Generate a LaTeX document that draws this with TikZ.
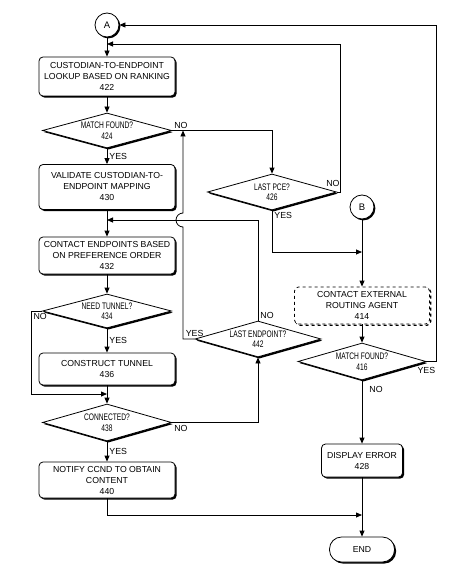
\documentclass[tikz,border=0pt]{standalone}
\usepackage{fontspec}
\setmainfont{Liberation Sans}
\newfontfamily\narrowfont[FakeStretch=0.7]{Liberation Sans}
\usetikzlibrary{shapes.geometric, arrows.meta, shadows}

\begin{document}
\begin{tikzpicture}[x=1pt, y=-1pt,
    boxbase/.style={rectangle, rounded corners=4pt, draw=black, line width=0.8pt, fill=white, align=center, inner sep=1pt, font=\fontsize{8.7}{11}\selectfont},
    box/.style={boxbase, drop shadow={shadow xshift=1.6pt, shadow yshift=-1.6pt, fill=black, opacity=1}},
    dbox/.style={boxbase, dashed, drop shadow={shadow xshift=1.3pt, shadow yshift=-1.3pt, fill=none, draw=black, dashed, line width=1.2pt, opacity=1}},
    dec/.style={diamond, draw=black, line width=0.8pt, fill=white, aspect=3.6, inner sep=0pt, align=center, font=\narrowfont\fontsize{9.5}{10.5}\selectfont, drop shadow={shadow xshift=1.4pt, shadow yshift=-1.6pt, fill=black, opacity=1}},
    conn/.style={circle, draw=black, line width=0.8pt, fill=white, minimum size=24pt, inner sep=0pt, font=\fontsize{9.5}{11}\selectfont, drop shadow={shadow xshift=1.4pt, shadow yshift=-1.4pt, fill=black, opacity=1}},
    flow/.style={-{Triangle[length=6pt, width=5pt]}, line width=0.8pt},
    lbl/.style={font=\fontsize{8.8}{10}\selectfont, inner sep=2pt}]
    \useasboundingbox (0,0) rectangle (474,588);

    %Nodes
    \node[conn] (A) at (107,25) {A};
    \node[box, minimum width=136pt, minimum height=39pt] (b422) at (107,76.5) {CUSTODIAN-TO-ENDPOINT\\LOOKUP BASED ON RANKING\\422};
    \node[dec, minimum width=129pt, minimum height=35pt] (d424) at (107,130.5) {MATCH FOUND?\\424};
    \node[box, minimum width=136pt, minimum height=45pt] (b430) at (107,187) {VALIDATE CUSTODIAN-TO-\\ENDPOINT MAPPING\\430};
    \node[box, minimum width=136pt, minimum height=37pt] (b432) at (107,255.5) {CONTACT ENDPOINTS BASED\\ON PREFERENCE ORDER\\432};
    \node[dec, minimum width=129pt, minimum height=34pt] (d434) at (107,311) {NEED TUNNEL?\\434};
    \node[box, minimum width=136pt, minimum height=32pt] (b436) at (107,369) {CONSTRUCT TUNNEL\\436};
    \node[dec, minimum width=129pt, minimum height=37pt] (d438) at (107,422.5) {CONNECTED?\\438};
    \node[box, minimum width=136pt, minimum height=36pt] (b440) at (107,480) {NOTIFY CCND TO OBTAIN\\CONTENT\\440};
    \node[dec, minimum width=129pt, minimum height=36pt] (d426) at (272,192) {LAST PCE?\\426};
    \node[dec, minimum width=126pt, minimum height=36pt] (d442) at (258,339) {LAST ENDPOINT?\\442};
    \node[conn] (B) at (362,207) {B};
    \node[dbox, minimum width=135pt, minimum height=37pt] (b414) at (362,305.5) {CONTACT EXTERNAL\\ROUTING AGENT\\414};
    \node[dec, minimum width=128pt, minimum height=37pt] (d416) at (362,361.5) {MATCH FOUND?\\416};
    \node[box, minimum width=81pt, minimum height=33pt] (b428) at (362,460.5) {DISPLAY ERROR\\428};
    \node[box, rounded corners=12pt, minimum width=65pt, minimum height=25pt] (end) at (362,549.5) {END};

    %Joins
    \coordinate (j1) at (107,394);
    \coordinate (j2) at (107,220);
    \coordinate (j3) at (107,44);
    \coordinate (j4) at (362,252);
    \coordinate (j5) at (362,515);
    \coordinate (j6) at (183,130.5);

    %Lines
    \draw[flow] (A) -- (b422);
    \draw[flow] (b422) -- (d424);
    \draw[flow] (d424) -- (b430) node[lbl, midway, right] {YES};
    \draw[flow] (b430) -- (b432);
    \draw[flow] (b432) -- (d434);
    \draw[flow] (d434) -- (b436) node[lbl, midway, right] {YES};
    \draw[flow] (b436) -- (d438);
    \draw[flow] (d438) -- (b440) node[lbl, midway, right] {YES};
    \draw[flow] (d434.west) node[lbl, below, xshift=-2pt] {NO} -- ++(-11,0) |- (j1);
    \draw[flow] (d438.east) node[lbl, below right] {NO} -| (d442.south);
    \draw[flow] (d442.north) node[lbl, above right] {NO} |- (j2);
    \draw[flow] (d442.west) node[lbl, above] {YES} -| ([yshift=-7pt]j6 |- j2) arc[start angle=-90, end angle=-270, radius=7pt] -- (j6);
    \draw[flow] (d424.east) node[lbl, above right] {NO} -| (d426.north);
    \draw[flow] (d426.east) node[lbl, above, xshift=-4pt, yshift=3pt] {NO} -- ++(3,0) |- (j3);
    \draw[flow] (d426.south) node[lbl, below right] {YES} |- (j4);
    \draw[flow] (B) -- (b414);
    \draw[flow] (b414) -- (d416);
    \draw[flow] (d416.east) node[lbl, below, yshift=-3pt] {YES} -- ++(10,0) |- (A);
    \draw[flow] (d416) -- (b428) node[lbl, pos=0.15, right, xshift=5pt] {NO};
    \draw[flow] (b428) -- (end);
    \draw[flow] (b440.south) |- (j5);

\end{tikzpicture}
\end{document}
